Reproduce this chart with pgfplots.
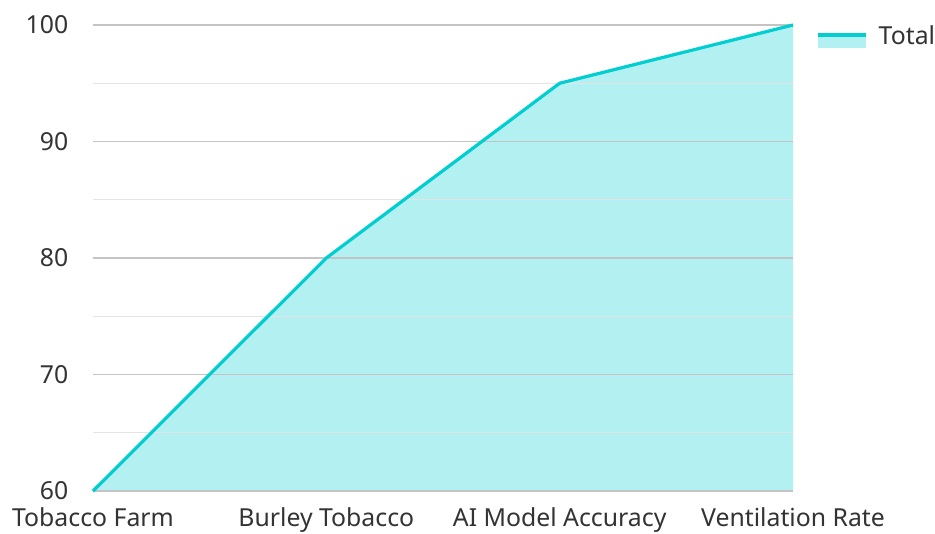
\documentclass[border=0pt]{standalone}
\usepackage{fontspec}
\setmainfont{Noto Sans}
\usepackage{pgfplots}
\pgfplotsset{compat=1.18}
\usetikzlibrary{calc}
\definecolor{turq}{HTML}{00CED1}
\definecolor{txt}{HTML}{333333}
\definecolor{gmaj}{HTML}{C4C4C4}
\definecolor{gmin}{HTML}{E4E4E4}

\begin{document}
\begin{tikzpicture}
  \begin{axis}[
      name=ax,
      set layers,
      scale only axis,
      width=525pt, height=349.5pt,
      xmin=0, xmax=3, ymin=60, ymax=100,
      xtick={0,1,2,3},
      xticklabels={Tobacco Farm, Burley Tobacco, AI Model Accuracy, Ventilation Rate},
      ytick={60,70,80,90,100},
      minor ytick={65,75,85,95},
      axis line style={draw=none},
      ymajorgrids, yminorgrids,
      major grid style={gmaj, line width=0.9pt},
      minor grid style={gmin, line width=0.9pt},
      tick style={draw=none},
      ticklabel style={font=\fontsize{18.6}{22}\selectfont, text=txt},
      /pgf/number format/assume math mode=true,
      yticklabel style={xshift=-15pt},
      xticklabel style={yshift=-9pt},
      clip=false,
      legend style={draw=none, fill=none, at={(1.028,1.01)}, anchor=north west,
                    font=\fontsize{18.6}{22}\selectfont, text=txt,
                    legend cell align=left,
                    /tikz/every odd column/.append style={column sep=6pt}},
      legend image code/.code={
        \path[draw=none, fill=turq, fill opacity=0.3] (0pt,-9pt) rectangle (36pt,1pt);
        \draw[turq, line width=2.4pt] (0pt,1pt) -- (36pt,1pt);
      },
    ]
    \addplot[draw=none, fill=turq, fill opacity=0.3, on layer=axis background, forget plot]
      coordinates {(0,60) (1,80) (2,95) (3,100)} \closedcycle;
    \addplot[turq, line width=2.4pt]
      coordinates {(0,60) (1,80) (2,95) (3,100)};
    \addlegendentry{Total}
  \end{axis}
  \pgfresetboundingbox
  \path[use as bounding box] ($(ax.south west)+(-69.75pt,-31.5pt)$) rectangle ($(ax.north east)+(106.5pt,18.75pt)$);
\end{tikzpicture}
\end{document}
